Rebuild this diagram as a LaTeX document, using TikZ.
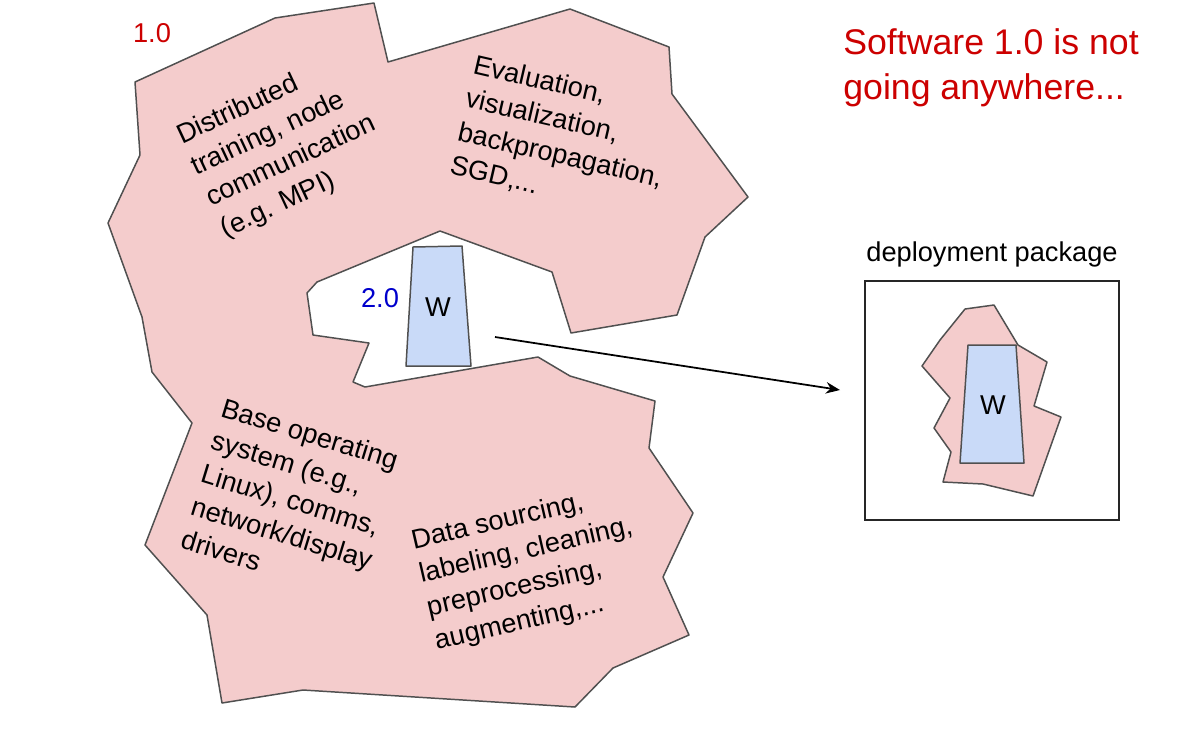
\documentclass[tikz,border=0pt]{standalone}
\usepackage{fontspec}
\setmainfont{Liberation Sans}
\usetikzlibrary{positioning,arrows.meta}

\definecolor{blobpink}{HTML}{F4CCCC}
\definecolor{netblue}{HTML}{C9DAF8}
\definecolor{edgegray}{HTML}{505050}
\definecolor{titlered}{HTML}{CC0000}
\definecolor{verblue}{HTML}{0000CC}

\begin{document}
\begin{tikzpicture}[
  x=0.02cm, y=-0.02cm,
  >={Stealth[length=8pt,width=6.5pt]},
  lbl/.style={font=\fontsize{15.5}{19.6}\selectfont, inner sep=0pt},
  blobtext/.style={lbl, align=left},
  blob/.style={fill=blobpink, draw=edgegray, line width=0.85pt, line join=round},
  weights/.style={fill=netblue, draw=edgegray, line width=0.85pt, line join=round},
  shipmap/.style={->, draw=black, line width=1pt},
  pkgframe/.style={draw=black!85, line width=0.85pt, minimum width=5.08cm, minimum height=4.78cm, inner sep=0pt}
]
  \useasboundingbox (0,0) rectangle (1195,744);

  % software 1.0 code around the weights
  \draw[blob] (135,82) -- (275,18) -- (374,3) -- (388,62) -- (570,9) -- (669,47) -- (672,94)
    -- (748,197) -- (705,237) -- (677,315) -- (571,333) -- (552,272) -- (440,231) -- (317,282)
    -- (307,293) -- (313,335) -- (369,343) -- (353,382) -- (365,387) -- (538,357) -- (570,376)
    -- (655,401) -- (649,448) -- (693,513) -- (663,577) -- (689,635) -- (613,668) -- (575,707)
    -- (303,690) -- (222,703) -- (207,615) -- (145,545) -- (192,423) -- (152,372) -- (142,317)
    -- (108,223) -- (140,155) -- cycle;
  \draw[weights] (413,247) -- (462,246) -- (471,366) -- (406,366) -- cycle;

  \node[lbl, text=titlered] (v10) at (152,33) {1.0};
  \node[lbl, text=verblue] (v20) at (380,298) {2.0};
  \node[lbl] (wmain) at (438,307) {W};

  \node[blobtext, rotate=25] (distrib) at (284,146) {Distributed\\training, node\\communication\\(e.g. MPI)};
  \node[blobtext, rotate=-13] (evalsgd) at (564,139) {Evaluation,\\visualization,\\backpropagation,\\SGD,...};
  \node[blobtext, rotate=-17] (baseos) at (292,500) {Base operating\\system (e.g.,\\Linux), comms,\\network/display\\drivers};
  \node[blobtext, rotate=13] (datasrc) at (530,568) {Data sourcing,\\labeling, cleaning,\\preprocessing,\\augmenting,...};

  \node[inner sep=0pt, anchor=west, align=left, text=titlered,
        font=\fontsize{20.3}{25.6}\selectfont] (slogan) at (843,68) {Software 1.0 is not\\going anywhere...};

  % shipped package
  \node[pkgframe] (pkgbox) at (992,400.5) {};
  \node[lbl, above=0.26cm of pkgbox.north] (pkglabel) {deployment package};
  \draw[blob] (965,309) -- (994,305) -- (1018,345) -- (1047,362) -- (1034,406) -- (1061,417)
    -- (1033,496) -- (983,484) -- (943,482) -- (951,452) -- (934,428) -- (950,398) -- (922,366)
    -- (940,340) -- cycle;
  \draw[weights] (968,345) -- (1016,345) -- (1024,463) -- (960,463) -- cycle;
  \node[lbl] (wpkg) at (993,405) {W};

  \coordinate (shiptail) at (495,337);
  \coordinate (shiphead) at (840,390);
  \draw[shipmap] (shiptail) -- (shiphead);
\end{tikzpicture}
\end{document}
